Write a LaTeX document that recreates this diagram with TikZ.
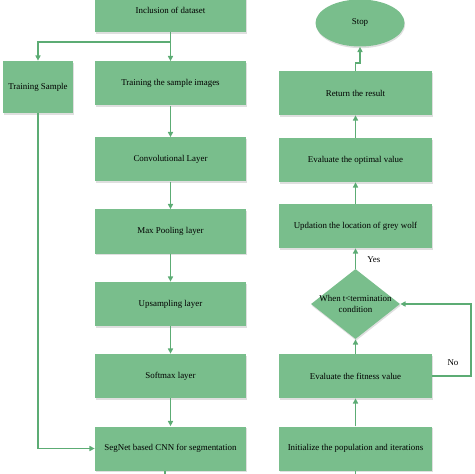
\documentclass[tikz,border=0pt]{standalone}
\usepackage{fontspec}
\setmainfont{Liberation Serif}
\usetikzlibrary{arrows.meta,shapes.geometric,shadows}
\definecolor{boxgreen}{RGB}{121,190,140}
\definecolor{linegreen}{RGB}{92,172,116}
\begin{document}
\begin{tikzpicture}[x=0.3mm,y=-0.3mm,
        every node/.style={font=\fontsize{7.6}{9}\selectfont},
        box/.style={fill=boxgreen,minimum width=45.3mm,minimum height=13.2mm,
            drop shadow={shadow xshift=0.2mm,shadow yshift=-0.5mm,opacity=0.25}},
        arr/.style={draw=linegreen,line width=1.4pt,-{Triangle[length=1.6mm,width=1.5mm]}},
        line/.style={draw=linegreen,line width=1.4pt}]
    \useasboundingbox (0,0) rectangle (474,474);
    % left column
    \node[box] (inc) at (170.5,10) {Inclusion of dataset};
    \node[box,minimum width=21mm,minimum height=15.6mm] (samp) at (38,87) {Training Sample};
    \node[box] (train) at (170.5,83.5) {Training the sample images};
    \node[box] (conv) at (170.5,159.5) {Convolutional Layer};
    \node[box] (pool) at (170.5,231.5) {Max Pooling layer};
    \node[box] (up) at (170.5,304) {Upsampling layer};
    \node[box] (soft) at (170.5,376) {Softmax layer};
    \node[box] (seg) at (170.5,448.5) {SegNet based CNN for segmentation};
    % right column
    \node[ellipse,fill=boxgreen,minimum width=26.7mm,minimum height=14.1mm,
        drop shadow={shadow xshift=0.2mm,shadow yshift=-0.5mm,opacity=0.25}] (stop) at (360,23) {Stop};
    \node[box,minimum width=45.9mm] (ret) at (355.5,93) {Return the result};
    \node[box,minimum width=45.9mm] (opt) at (355.5,160) {Evaluate the optimal value};
    \node[box,minimum width=45.9mm] (upd) at (355.5,226) {Updation the location of grey wolf};
    \node[diamond,fill=boxgreen,inner sep=0pt,minimum width=26.7mm,minimum height=21mm,
        drop shadow={shadow xshift=0.2mm,shadow yshift=-0.5mm,opacity=0.25},
        label={[align=center]center:When t<termination\\condition}] (cond) at (355.5,304) {};
    \node[box,minimum width=45.9mm] (fit) at (355.5,376) {Evaluate the fitness value};
    \node[box,minimum width=45.9mm] (init) at (355.5,448.5) {Initialize the population and iterations};
    \node (no) at (453,363) {No};
    % connectors
    \coordinate (split) at (170.5,42);
    \coordinate (segout) at (165,480);
    \coordinate (initout) at (355.5,480);
    \draw[arr] (inc.south) -- (train.north);
    \draw[arr] (split) -| (samp.north);
    \draw[arr] (samp.south) |- (seg.west);
    \draw[arr] (train) -- (conv);
    \draw[arr] (conv) -- (pool);
    \draw[arr] (pool) -- (up);
    \draw[arr] (up) -- (soft);
    \draw[arr] (soft) -- (seg);
    \draw[line] (seg.south -| segout) -- (segout);
    \draw[line] (init.south) -- (initout);
    \draw[arr] (init) -- (fit);
    \draw[arr] (fit) -- (cond);
    \draw[arr] (cond.north) -- node[right,xshift=6pt,pos=0.45] {Yes} (upd.south);
    \draw[arr] (upd) -- (opt);
    \draw[arr] (opt) -- (ret);
    \draw[arr] (ret.north) -- ++(0,-8) -| (stop.south);
    \draw[arr] (fit.east) -- ++(39,0) |- (cond.east);
\end{tikzpicture}
\end{document}
